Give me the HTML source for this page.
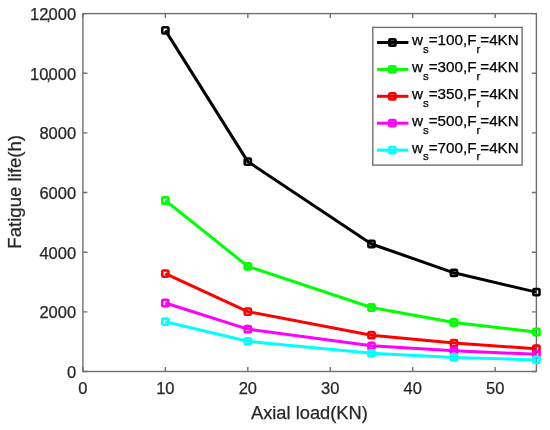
<!DOCTYPE html><html><head><meta charset="utf-8"><style>html,body{margin:0;padding:0;background:#fff;}svg{display:block;}text{font-family:"Liberation Sans",Arial,sans-serif;}</style></head><body>
<svg width="550" height="430" viewBox="0 0 550 430">
<rect width="550" height="430" fill="#fff"/>
<rect x="82.9" y="13.6" width="453.50" height="357.90" fill="none" stroke="#707070" stroke-width="1.4"/>
<path d="M82.90 371.5v-4.5M82.90 13.6v4.5M165.35 371.5v-4.5M165.35 13.6v4.5M247.81 371.5v-4.5M247.81 13.6v4.5M330.26 371.5v-4.5M330.26 13.6v4.5M412.72 371.5v-4.5M412.72 13.6v4.5M495.17 371.5v-4.5M495.17 13.6v4.5M82.9 371.50h4.5M536.4 371.50h-4.5M82.9 311.85h4.5M536.4 311.85h-4.5M82.9 252.20h4.5M536.4 252.20h-4.5M82.9 192.55h4.5M536.4 192.55h-4.5M82.9 132.90h4.5M536.4 132.90h-4.5M82.9 73.25h4.5M536.4 73.25h-4.5M82.9 13.60h4.5M536.4 13.60h-4.5" stroke="#707070" stroke-width="1.4" fill="none"/>
<polyline points="165.35,30.39 247.81,161.59 371.49,244.00 453.95,272.81 536.40,292.11" fill="none" stroke="#000000" stroke-width="3.0" stroke-linejoin="round"/>
<rect x="162.25" y="27.29" width="6.2" height="6.2" fill="none" stroke="#000000" stroke-width="2.6" rx="1.2" stroke-linejoin="round"/>
<rect x="244.71" y="158.49" width="6.2" height="6.2" fill="none" stroke="#000000" stroke-width="2.6" rx="1.2" stroke-linejoin="round"/>
<rect x="368.39" y="240.90" width="6.2" height="6.2" fill="none" stroke="#000000" stroke-width="2.6" rx="1.2" stroke-linejoin="round"/>
<rect x="450.85" y="269.71" width="6.2" height="6.2" fill="none" stroke="#000000" stroke-width="2.6" rx="1.2" stroke-linejoin="round"/>
<rect x="533.30" y="289.01" width="6.2" height="6.2" fill="none" stroke="#000000" stroke-width="2.6" rx="1.2" stroke-linejoin="round"/>
<polyline points="165.35,200.51 247.81,266.31 371.49,307.50 453.95,322.50 536.40,332.01" fill="none" stroke="#00ff00" stroke-width="3.0" stroke-linejoin="round"/>
<rect x="162.25" y="197.41" width="6.2" height="6.2" fill="none" stroke="#00ff00" stroke-width="2.6" rx="1.2" stroke-linejoin="round"/>
<rect x="244.71" y="263.21" width="6.2" height="6.2" fill="none" stroke="#00ff00" stroke-width="2.6" rx="1.2" stroke-linejoin="round"/>
<rect x="368.39" y="304.40" width="6.2" height="6.2" fill="none" stroke="#00ff00" stroke-width="2.6" rx="1.2" stroke-linejoin="round"/>
<rect x="450.85" y="319.40" width="6.2" height="6.2" fill="none" stroke="#00ff00" stroke-width="2.6" rx="1.2" stroke-linejoin="round"/>
<rect x="533.30" y="328.91" width="6.2" height="6.2" fill="none" stroke="#00ff00" stroke-width="2.6" rx="1.2" stroke-linejoin="round"/>
<polyline points="165.35,273.61 247.81,311.61 371.49,335.20 453.95,343.11 536.40,348.68" fill="none" stroke="#ff0000" stroke-width="3.0" stroke-linejoin="round"/>
<rect x="162.25" y="270.51" width="6.2" height="6.2" fill="none" stroke="#ff0000" stroke-width="2.6" rx="1.2" stroke-linejoin="round"/>
<rect x="244.71" y="308.51" width="6.2" height="6.2" fill="none" stroke="#ff0000" stroke-width="2.6" rx="1.2" stroke-linejoin="round"/>
<rect x="368.39" y="332.10" width="6.2" height="6.2" fill="none" stroke="#ff0000" stroke-width="2.6" rx="1.2" stroke-linejoin="round"/>
<rect x="450.85" y="340.01" width="6.2" height="6.2" fill="none" stroke="#ff0000" stroke-width="2.6" rx="1.2" stroke-linejoin="round"/>
<rect x="533.30" y="345.58" width="6.2" height="6.2" fill="none" stroke="#ff0000" stroke-width="2.6" rx="1.2" stroke-linejoin="round"/>
<polyline points="165.35,302.99 247.81,329.09 371.49,345.79 453.95,350.71 536.40,354.35" fill="none" stroke="#ff00ff" stroke-width="3.0" stroke-linejoin="round"/>
<rect x="162.25" y="299.89" width="6.2" height="6.2" fill="none" stroke="#ff00ff" stroke-width="2.6" rx="1.2" stroke-linejoin="round"/>
<rect x="244.71" y="325.99" width="6.2" height="6.2" fill="none" stroke="#ff00ff" stroke-width="2.6" rx="1.2" stroke-linejoin="round"/>
<rect x="368.39" y="342.69" width="6.2" height="6.2" fill="none" stroke="#ff00ff" stroke-width="2.6" rx="1.2" stroke-linejoin="round"/>
<rect x="450.85" y="347.61" width="6.2" height="6.2" fill="none" stroke="#ff00ff" stroke-width="2.6" rx="1.2" stroke-linejoin="round"/>
<rect x="533.30" y="351.25" width="6.2" height="6.2" fill="none" stroke="#ff00ff" stroke-width="2.6" rx="1.2" stroke-linejoin="round"/>
<polyline points="165.35,321.69 247.81,341.29 371.49,353.31 453.95,357.39 536.40,359.93" fill="none" stroke="#00ffff" stroke-width="3.0" stroke-linejoin="round"/>
<rect x="162.25" y="318.59" width="6.2" height="6.2" fill="none" stroke="#00ffff" stroke-width="2.6" rx="1.2" stroke-linejoin="round"/>
<rect x="244.71" y="338.19" width="6.2" height="6.2" fill="none" stroke="#00ffff" stroke-width="2.6" rx="1.2" stroke-linejoin="round"/>
<rect x="368.39" y="350.21" width="6.2" height="6.2" fill="none" stroke="#00ffff" stroke-width="2.6" rx="1.2" stroke-linejoin="round"/>
<rect x="450.85" y="354.29" width="6.2" height="6.2" fill="none" stroke="#00ffff" stroke-width="2.6" rx="1.2" stroke-linejoin="round"/>
<rect x="533.30" y="356.83" width="6.2" height="6.2" fill="none" stroke="#00ffff" stroke-width="2.6" rx="1.2" stroke-linejoin="round"/>
<g fill="#262626" font-size="16.5px" stroke="#262626" stroke-width="0.25">
<text x="82.90" y="394.1" text-anchor="middle">0</text>
<text x="165.35" y="394.1" text-anchor="middle">10</text>
<text x="247.81" y="394.1" text-anchor="middle">20</text>
<text x="330.26" y="394.1" text-anchor="middle">30</text>
<text x="412.72" y="394.1" text-anchor="middle">40</text>
<text x="495.17" y="394.1" text-anchor="middle">50</text>
<text x="76.1" y="377.90" text-anchor="end">0</text>
<text x="76.1" y="318.25" text-anchor="end">2000</text>
<text x="76.1" y="258.60" text-anchor="end">4000</text>
<text x="76.1" y="198.95" text-anchor="end">6000</text>
<text x="76.1" y="139.30" text-anchor="end">8000</text>
<text x="76.1" y="79.65" text-anchor="end">10<tspan dx="-2.2">,</tspan><tspan dx="-2.3">000</tspan></text>
<text x="76.1" y="20.00" text-anchor="end">12<tspan dx="-2.2">,</tspan><tspan dx="-2.3">000</tspan></text>
</g>
<text x="309.4" y="419" text-anchor="middle" font-size="18.3px" fill="#262626" stroke="#262626" stroke-width="0.25">Axial load(KN)</text>
<text transform="translate(20.5,191.8) rotate(-90)" text-anchor="middle" font-size="18.6px" fill="#262626" stroke="#262626" stroke-width="0.25">Fatigue life(h)</text>
<rect x="372.8" y="27.4" width="149.30" height="137.70" fill="#fff" stroke="#707070" stroke-width="1.4"/>
<line x1="377" y1="42.50" x2="408.4" y2="42.50" stroke="#000000" stroke-width="3.0"/>
<rect x="389.30" y="39.40" width="6.2" height="6.2" fill="none" stroke="#000000" stroke-width="2.6" rx="1.2" stroke-linejoin="round"/>
<text x="412" y="44.90" font-size="15.2px" fill="#000" stroke="#000" stroke-width="0.25">w<tspan font-size="11.5px" dy="7.9">s</tspan><tspan dy="-7.9">=100,F</tspan><tspan font-size="11.5px" dy="7.9">r</tspan><tspan dy="-7.9">=4KN</tspan></text>
<line x1="377" y1="69.40" x2="408.4" y2="69.40" stroke="#00ff00" stroke-width="3.0"/>
<rect x="389.30" y="66.30" width="6.2" height="6.2" fill="none" stroke="#00ff00" stroke-width="2.6" rx="1.2" stroke-linejoin="round"/>
<text x="412" y="71.80" font-size="15.2px" fill="#000" stroke="#000" stroke-width="0.25">w<tspan font-size="11.5px" dy="7.9">s</tspan><tspan dy="-7.9">=300,F</tspan><tspan font-size="11.5px" dy="7.9">r</tspan><tspan dy="-7.9">=4KN</tspan></text>
<line x1="377" y1="96.30" x2="408.4" y2="96.30" stroke="#ff0000" stroke-width="3.0"/>
<rect x="389.30" y="93.20" width="6.2" height="6.2" fill="none" stroke="#ff0000" stroke-width="2.6" rx="1.2" stroke-linejoin="round"/>
<text x="412" y="98.70" font-size="15.2px" fill="#000" stroke="#000" stroke-width="0.25">w<tspan font-size="11.5px" dy="7.9">s</tspan><tspan dy="-7.9">=350,F</tspan><tspan font-size="11.5px" dy="7.9">r</tspan><tspan dy="-7.9">=4KN</tspan></text>
<line x1="377" y1="123.20" x2="408.4" y2="123.20" stroke="#ff00ff" stroke-width="3.0"/>
<rect x="389.30" y="120.10" width="6.2" height="6.2" fill="none" stroke="#ff00ff" stroke-width="2.6" rx="1.2" stroke-linejoin="round"/>
<text x="412" y="125.60" font-size="15.2px" fill="#000" stroke="#000" stroke-width="0.25">w<tspan font-size="11.5px" dy="7.9">s</tspan><tspan dy="-7.9">=500,F</tspan><tspan font-size="11.5px" dy="7.9">r</tspan><tspan dy="-7.9">=4KN</tspan></text>
<line x1="377" y1="150.10" x2="408.4" y2="150.10" stroke="#00ffff" stroke-width="3.0"/>
<rect x="389.30" y="147.00" width="6.2" height="6.2" fill="none" stroke="#00ffff" stroke-width="2.6" rx="1.2" stroke-linejoin="round"/>
<text x="412" y="152.50" font-size="15.2px" fill="#000" stroke="#000" stroke-width="0.25">w<tspan font-size="11.5px" dy="7.9">s</tspan><tspan dy="-7.9">=700,F</tspan><tspan font-size="11.5px" dy="7.9">r</tspan><tspan dy="-7.9">=4KN</tspan></text>
</svg></body></html>
